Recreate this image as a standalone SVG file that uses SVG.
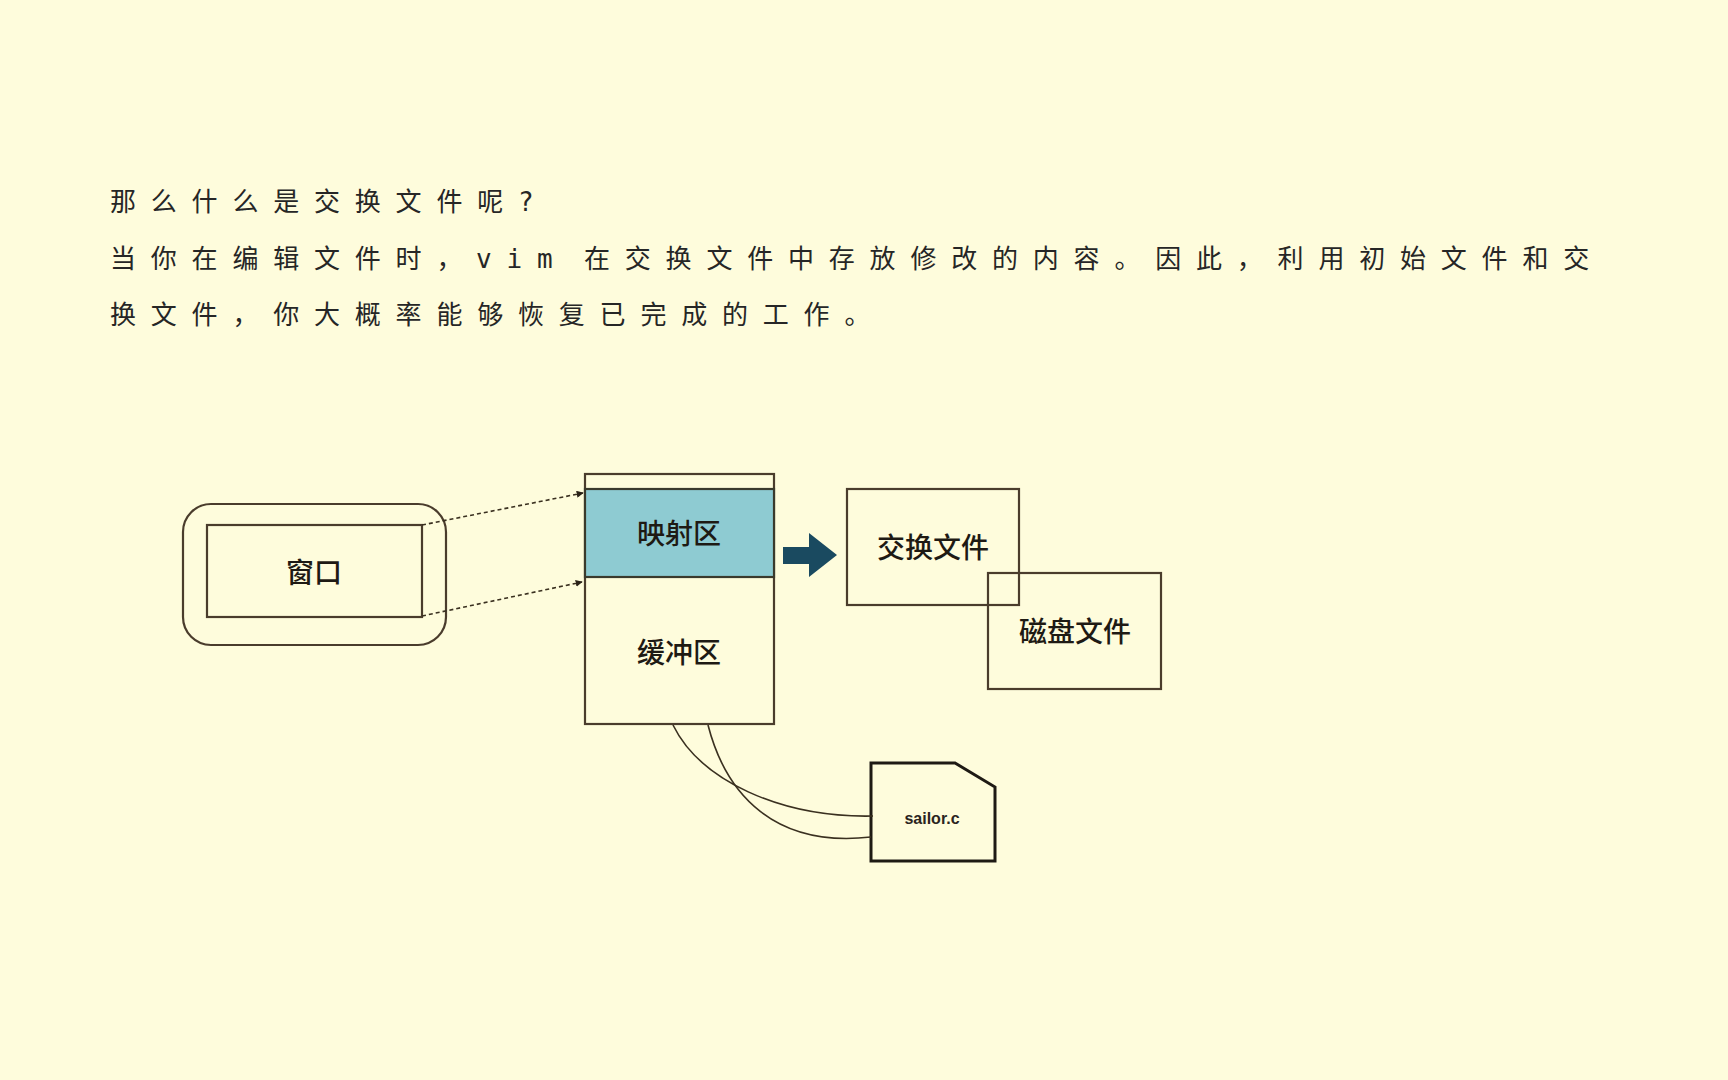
<svg xmlns="http://www.w3.org/2000/svg" width="1728" height="1080" viewBox="0 0 1728 1080">
<defs>
<style>
.para{font-family:"DejaVu Sans Mono","Noto Sans CJK SC",monospace;font-size:26px;letter-spacing:14.8px;fill:#262626}
.lbl{font-family:"Noto Sans CJK SC","Noto Sans",sans-serif;font-size:28px;font-weight:500;fill:#1e1a14;text-anchor:middle;dominant-baseline:central}
.box{fill:none;stroke:#4a3c2c;stroke-width:2.2}
.dash{fill:none;stroke:#3a3020;stroke-width:1.6;stroke-dasharray:4 3}
.curve{fill:none;stroke:#3a3020;stroke-width:1.6}
</style>
<marker id="ah" viewBox="0 0 10 10" refX="9" refY="5" markerWidth="7" markerHeight="7" orient="auto" markerUnits="userSpaceOnUse">
<path d="M0,0 L10,5 L0,10 z" fill="#2a2218"/>
</marker>
</defs>
<rect width="1728" height="1080" fill="#fefcdc"/>
<g id="text">
<text class="para" x="110" y="211">那么什么是交换文件呢?</text>
<text class="para" y="268"><tspan x="110">当你在编辑文件时，</tspan><tspan x="476">vim</tspan><tspan x="584">在交换文件中存放修改的内容。因此，利用初始文件和交</tspan></text>
<text class="para" x="110" y="324">换文件，你大概率能够恢复已完成的工作。</text>
</g>
<g id="window">
<rect class="box" x="183" y="504" width="263" height="141" rx="28"/>
<rect class="box" x="207" y="525" width="215" height="92"/>
<text class="lbl" x="314" y="571">窗口</text>
</g>
<g id="buffer">
<rect class="box" x="585" y="474" width="189" height="250" fill="#fefcdc"/>
<rect x="585" y="489" width="189" height="88" fill="#8ecbd2" stroke="#3a3a2c" stroke-width="2.2"/>
<text class="lbl" x="679" y="532">映射区</text>
<text class="lbl" x="679" y="651">缓冲区</text>
</g>
<g id="swapfile">
<rect class="box" x="847" y="489" width="172" height="116"/>
<text class="lbl" x="933" y="546">交换文件</text>
</g>
<g id="diskfile">
<rect class="box" x="988" y="573" width="173" height="116"/>
<text class="lbl" x="1075" y="630">磁盘文件</text>
</g>
<g id="sailor">
<path d="M871,763 L955,763 L995,787 L995,861 L871,861 Z" fill="none" stroke="#1e1a14" stroke-width="3" stroke-linejoin="miter"/>
<text x="932" y="818" font-family="Liberation Sans, Arial, sans-serif" font-size="16" font-weight="bold" fill="#2a2420" text-anchor="middle" dominant-baseline="central">sailor.c</text>
</g>
<g id="connectors">
<line class="dash" x1="422" y1="525" x2="583" y2="493" marker-end="url(#ah)"/>
<line class="dash" x1="422" y1="616" x2="582" y2="582" marker-end="url(#ah)"/>
<path d="M783,547 L809,547 L809,533 L837,555 L809,577 L809,564 L783,564 Z" fill="#1a4a60"/>
<path class="curve" d="M673,725 C700,780 780,818 873,816"/>
<path class="curve" d="M708,725 C726,795 775,848 871,837"/>
</g>
</svg>
